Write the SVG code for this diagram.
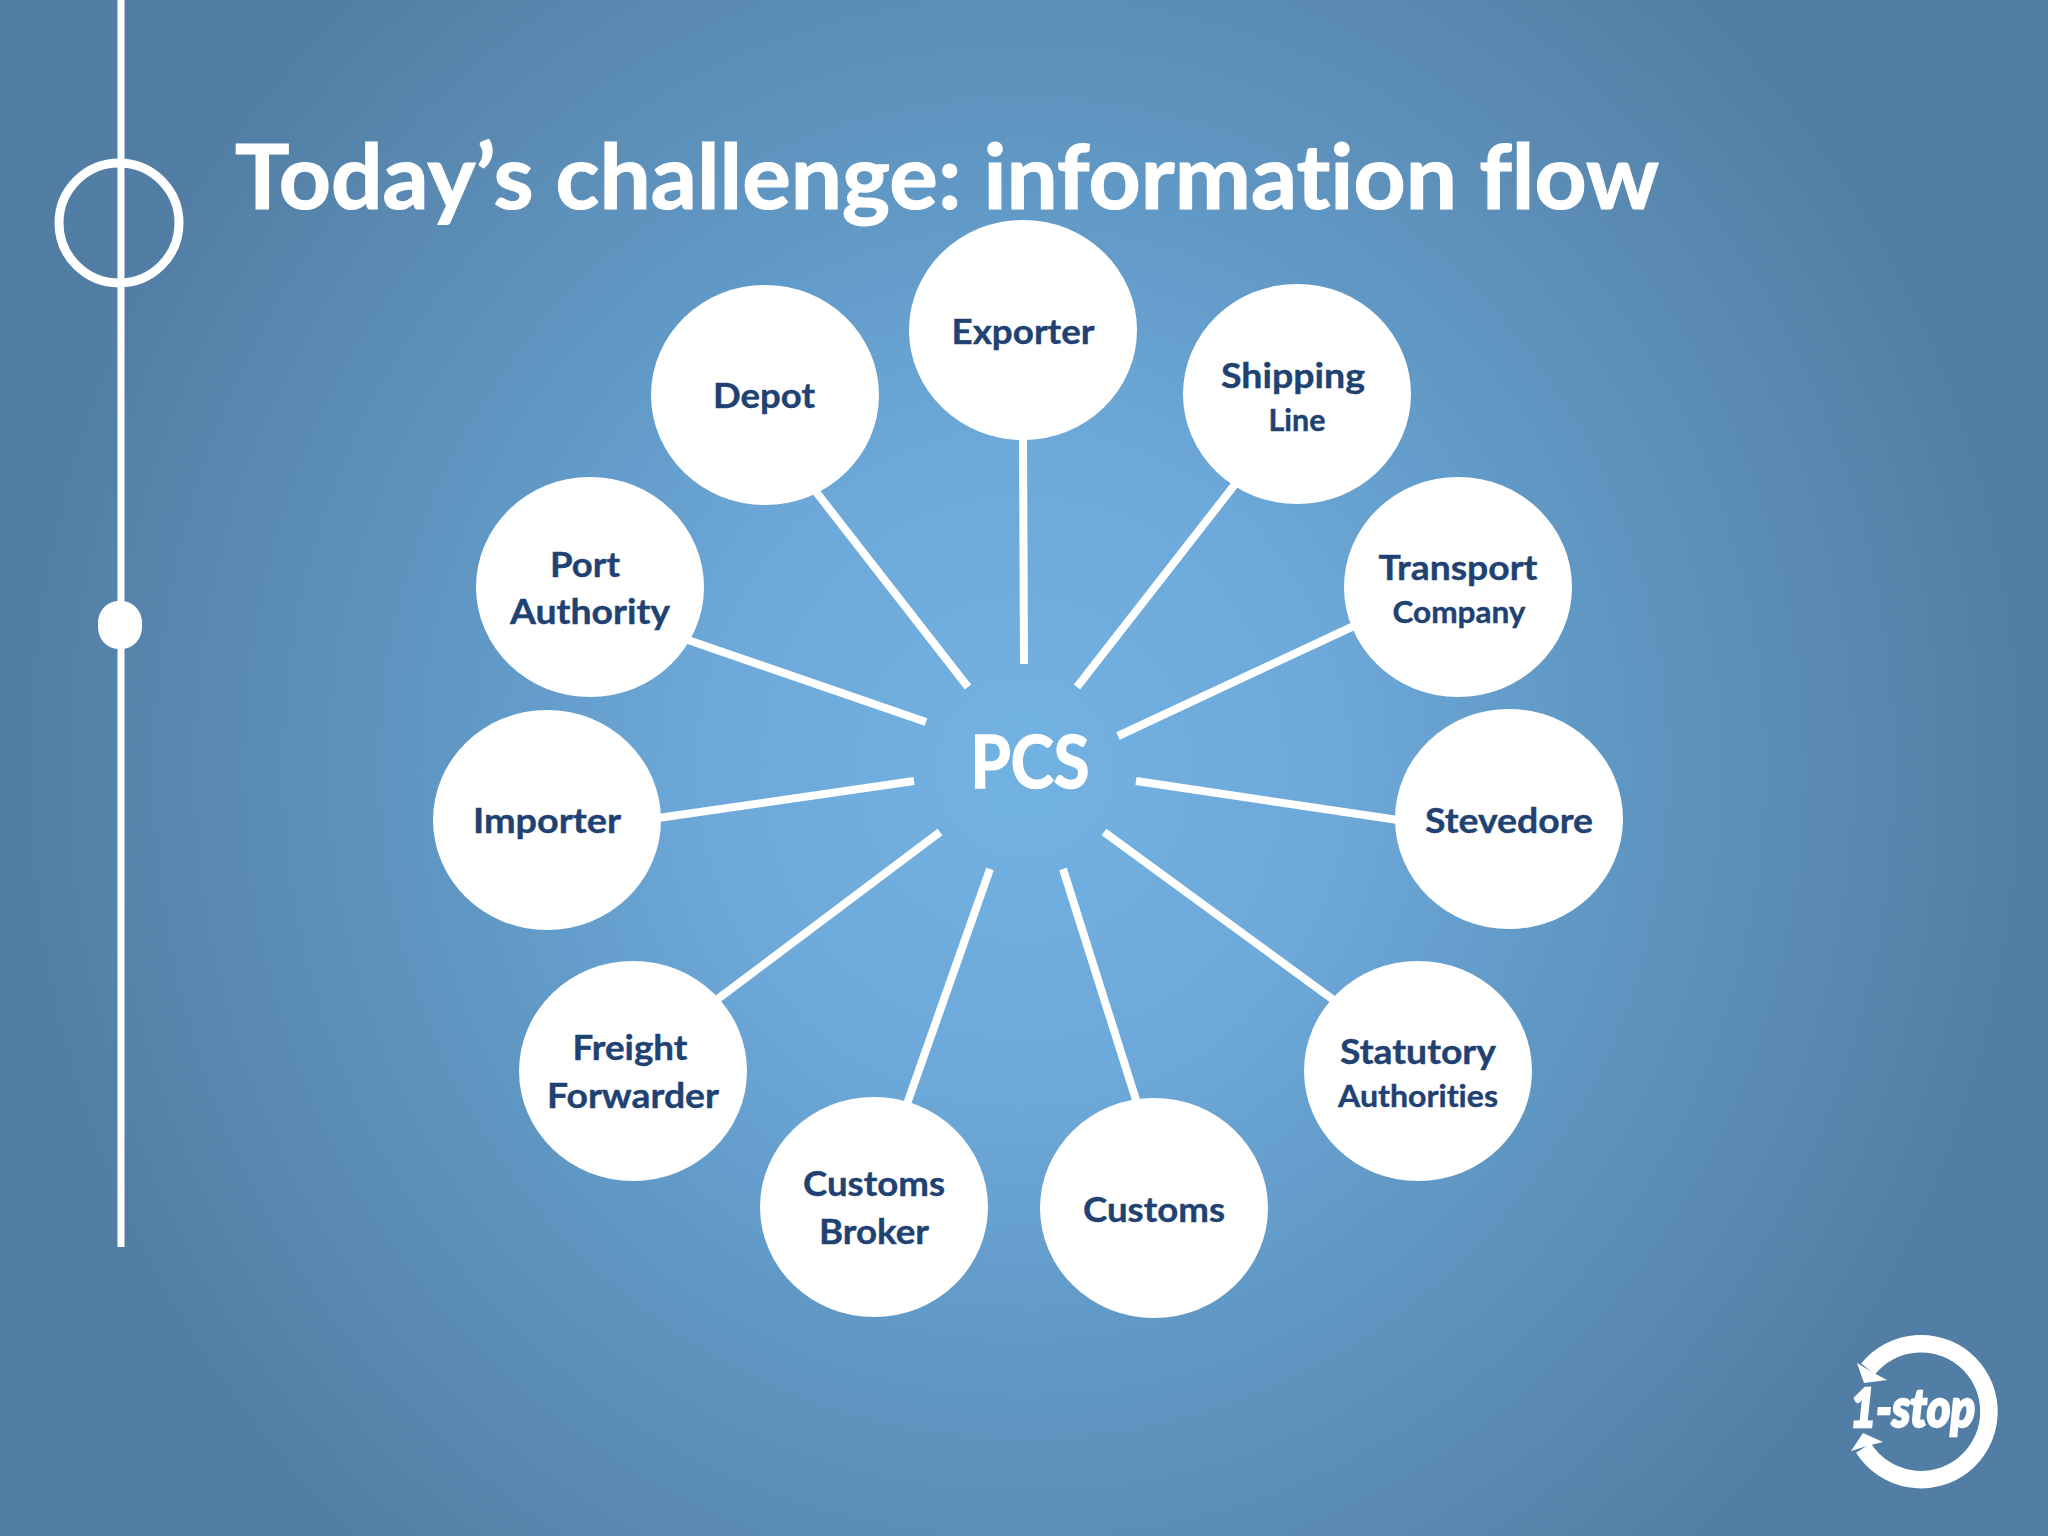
<svg xmlns="http://www.w3.org/2000/svg" width="2048" height="1536" viewBox="0 0 2048 1536">
<defs>
<radialGradient id="bg" gradientUnits="userSpaceOnUse" cx="0" cy="0" r="1" gradientTransform="translate(1024 768) scale(1000 1040)">
<stop offset="0" stop-color="#72b2e2"/>
<stop offset="0.3" stop-color="#6da9da"/>
<stop offset="0.55" stop-color="#6199c6"/>
<stop offset="0.8" stop-color="#5a8ab2"/>
<stop offset="1" stop-color="#527ea5"/>
</radialGradient>
</defs>
<style>
text{font-variant-ligatures:none}
.node{fill:#fff}
.lab{font-family:"Lato","Liberation Sans",sans-serif;font-weight:700;fill:#1f4273;stroke:#1f4273;stroke-width:.4;text-anchor:middle}
.big{font-size:35px}
.small{font-size:30px}
.conn{stroke:#fff;stroke-width:8;fill:none}
.white{fill:#fff;stroke:#fff;font-family:"Lato","Liberation Sans",sans-serif;font-weight:700}
</style>
<rect id="background" width="2048" height="1536" fill="url(#bg)"/>
<g id="rail">
<line x1="121" y1="0" x2="121" y2="1247" stroke="#fff" stroke-width="7"/>
<circle cx="119" cy="223" r="60" fill="none" stroke="#fff" stroke-width="9"/>
<rect x="98" y="601" width="44" height="48" rx="20" ry="22" fill="#fff"/>
</g>
<text id="title" class="white" stroke-width="1.2" x="235" y="209" font-size="90" textLength="1424" lengthAdjust="spacingAndGlyphs">Today’s challenge: information flow</text>
<g id="connectors" class="conn">
<line x1="1023" y1="438" x2="1024" y2="664"/>
<line x1="1236" y1="483" x2="1077" y2="687"/>
<line x1="1356" y1="625" x2="1118" y2="736"/>
<line x1="1398" y1="820" x2="1136" y2="781"/>
<line x1="1335" y1="1001" x2="1104" y2="832"/>
<line x1="1137" y1="1103" x2="1063" y2="869"/>
<line x1="907" y1="1104" x2="990" y2="869"/>
<line x1="715" y1="1001" x2="940" y2="832"/>
<line x1="658" y1="818" x2="914" y2="781"/>
<line x1="685" y1="639" x2="926" y2="722"/>
<line x1="813" y1="488" x2="968" y2="687"/>
</g>
<g id="pcs"><text class="white" stroke-width="1.6" x="1030" y="788" font-size="72" text-anchor="middle" textLength="119" lengthAdjust="spacingAndGlyphs">PCS</text></g>
<g id="exporter"><ellipse class="node" cx="1023" cy="330" rx="114" ry="110"/><text class="lab big" x="1023" y="344" textLength="143" lengthAdjust="spacingAndGlyphs">Exporter</text></g>
<g id="shipping-line"><ellipse class="node" cx="1297" cy="394" rx="114" ry="110"/><text class="lab big" x="1293" y="388" textLength="144" lengthAdjust="spacingAndGlyphs">Shipping</text><text class="lab small" x="1297" y="431" textLength="57" lengthAdjust="spacingAndGlyphs">Line</text></g>
<g id="transport-company"><ellipse class="node" cx="1458" cy="587" rx="114" ry="110"/><text class="lab big" x="1458" y="580" textLength="159" lengthAdjust="spacingAndGlyphs">Transport</text><text class="lab small" x="1459" y="623" textLength="133" lengthAdjust="spacingAndGlyphs">Company</text></g>
<g id="stevedore"><ellipse class="node" cx="1509" cy="819" rx="114" ry="110"/><text class="lab big" x="1509" y="833" textLength="168" lengthAdjust="spacingAndGlyphs">Stevedore</text></g>
<g id="statutory-authorities"><ellipse class="node" cx="1418" cy="1071" rx="114" ry="110"/><text class="lab big" x="1418" y="1064" textLength="156" lengthAdjust="spacingAndGlyphs">Statutory</text><text class="lab small" x="1418" y="1107" textLength="160" lengthAdjust="spacingAndGlyphs">Authorities</text></g>
<g id="customs"><ellipse class="node" cx="1154" cy="1208" rx="114" ry="110"/><text class="lab big" x="1154" y="1222" textLength="142" lengthAdjust="spacingAndGlyphs">Customs</text></g>
<g id="customs-broker"><ellipse class="node" cx="874" cy="1207" rx="114" ry="110"/><text class="lab big" x="874" y="1196" textLength="142" lengthAdjust="spacingAndGlyphs">Customs</text><text class="lab big" x="874" y="1244" textLength="110" lengthAdjust="spacingAndGlyphs">Broker</text></g>
<g id="freight-forwarder"><ellipse class="node" cx="633" cy="1071" rx="114" ry="110"/><text class="lab big" x="630" y="1060" textLength="115" lengthAdjust="spacingAndGlyphs">Freight</text><text class="lab big" x="633" y="1108" textLength="172" lengthAdjust="spacingAndGlyphs">Forwarder</text></g>
<g id="importer"><ellipse class="node" cx="547" cy="820" rx="114" ry="110"/><text class="lab big" x="547" y="833" textLength="148" lengthAdjust="spacingAndGlyphs">Importer</text></g>
<g id="port-authority"><ellipse class="node" cx="590" cy="587" rx="114" ry="110"/><text class="lab big" x="585" y="577" textLength="70" lengthAdjust="spacingAndGlyphs">Port</text><text class="lab big" x="590" y="624" textLength="160" lengthAdjust="spacingAndGlyphs">Authority</text></g>
<g id="depot"><ellipse class="node" cx="765" cy="395" rx="114" ry="110"/><text class="lab big" x="764" y="408" textLength="102" lengthAdjust="spacingAndGlyphs">Depot</text></g>
<g id="logo">
<path d="M1868 1369 A68 68 0 1 1 1863.5 1448" fill="none" stroke="#fff" stroke-width="17.5"/>
<polygon points="1857,1363 1864,1383 1887,1380 1872,1372" fill="#fff"/>
<polygon points="1851,1451 1863,1433 1883,1442 1867,1446" fill="#fff"/>
<text x="1850" y="1427" font-family="Lato,'Liberation Sans',sans-serif" font-weight="900" font-style="italic" font-size="54" fill="#fff" stroke="#fff" stroke-width="2.4" textLength="125" lengthAdjust="spacingAndGlyphs">1-stop</text>
</g>
</svg>
